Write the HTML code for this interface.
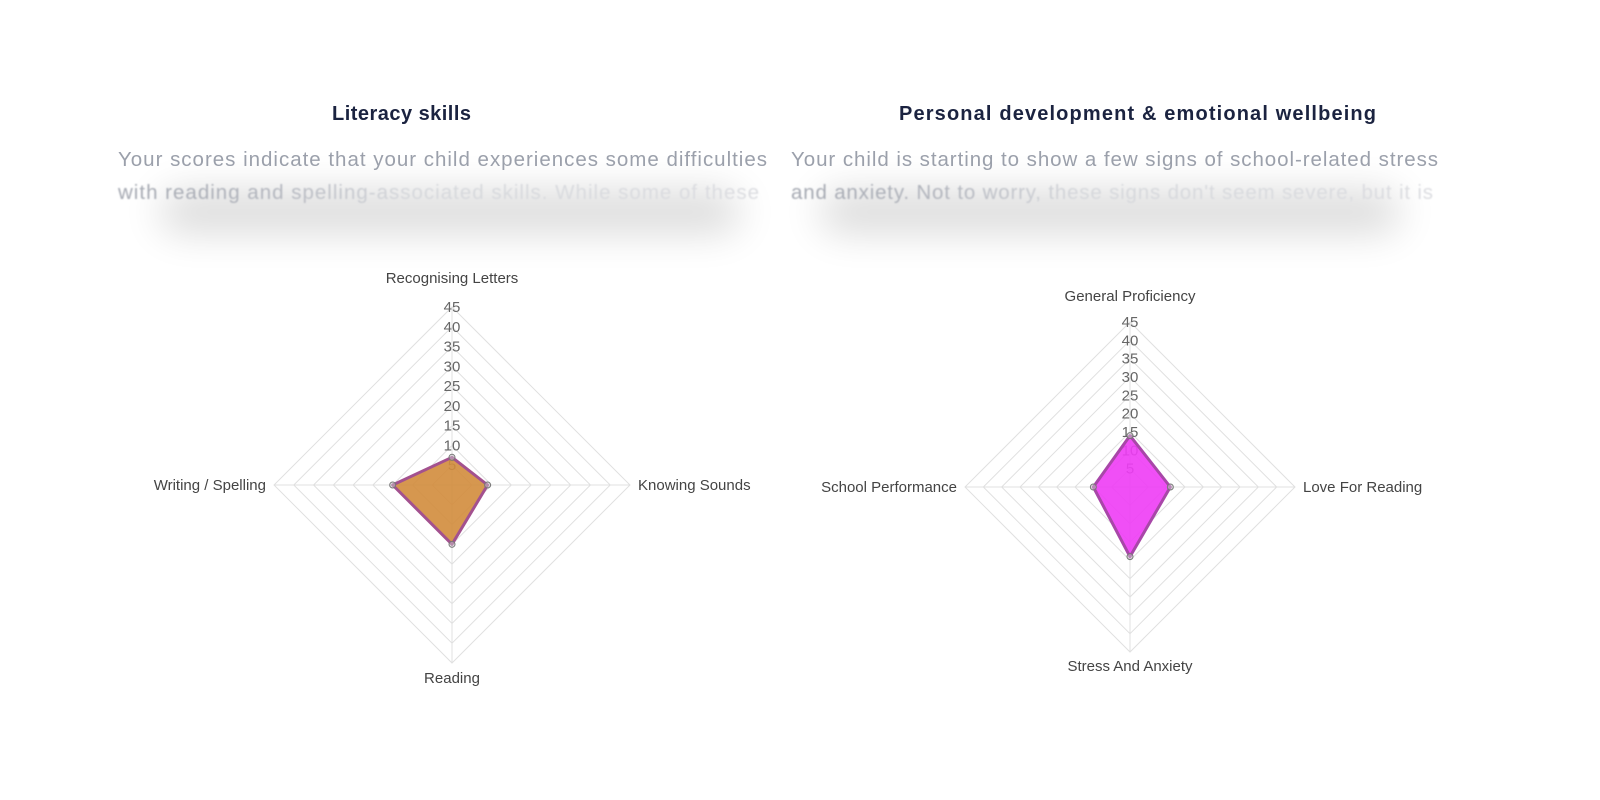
<!DOCTYPE html>
<html><head><meta charset="utf-8"><style>
html,body{margin:0;padding:0;background:#fff;width:1600px;height:800px;overflow:hidden;font-family:"Liberation Sans",sans-serif}
svg{position:absolute;left:0;top:0}
</style></head><body>
<svg id="s" width="1600" height="800">
<defs>
<filter id="blur" x="-30%" y="-200%" width="160%" height="500%"><feGaussianBlur stdDeviation="20"/></filter>
<filter id="tb"><feGaussianBlur stdDeviation="0.9"/></filter>
<linearGradient id="tfade" x1="0" y1="0" x2="1" y2="0">
<stop offset="0" stop-color="#a4a8b1"/><stop offset="0.25" stop-color="#b4b7bf"/><stop offset="0.45" stop-color="#d6d8dc"/><stop offset="1" stop-color="#dcdde1"/></linearGradient>
</defs>
<g>
<text x="332" y="120" textLength="139" font-size="20" font-weight="bold" fill="#1b2340">Literacy skills</text>
<rect x="160" y="192" width="580" height="40" rx="20" fill="#000" opacity="0.15" filter="url(#blur)"/>
<text x="118" y="166" textLength="649" font-size="20.5" fill="#9ba0ab">Your scores indicate that your child experiences some difficulties</text>
<text x="118" y="199" textLength="641" font-size="20.5" fill="url(#tfade)" filter="url(#tb)">with reading and spelling-associated skills. While some of these</text>
</g>
<g>
<text x="899" y="120" textLength="477" font-size="20" font-weight="bold" fill="#1b2340">Personal development &amp; emotional wellbeing</text>
<rect x="820" y="192" width="580" height="40" rx="20" fill="#000" opacity="0.15" filter="url(#blur)"/>
<text x="791" y="166" textLength="647" font-size="20.5" fill="#9ba0ab">Your child is starting to show a few signs of school-related stress</text>
<text x="791" y="199" textLength="642" font-size="20.5" fill="url(#tfade)" filter="url(#tb)">and anxiety. Not to worry, these signs don't seem severe, but it is</text>
</g>
</svg>
<script>
const ticks=[5,10,15,20,25,30,35,40,45];
const maxVal=45;
const litLabels=["Recognising Letters","Knowing Sounds","Reading","Writing / Spelling"];
const litValues=[7,9,15,15];
const welLabels=["General Proficiency","Love For Reading","Stress And Anxiety","School Performance"];
const welValues=[14,11,19,10];
const NS="http://www.w3.org/2000/svg";
const svg=document.getElementById('s');
function mk(t,a,p){const e=document.createElementNS(NS,t);for(const k in a)e.setAttribute(k,a[k]);(p||svg).appendChild(e);return e;}
function radar(name,cx,cy,R,labels,values,fill,stroke,labelOff){
  const g=mk('g',{});
  
  
  const n=labels.length;
  const ang=i=>-Math.PI/2+i*2*Math.PI/n;
  const rs=v=>v/maxVal*R;
  const pt=(i,v)=>[cx+rs(v)*Math.cos(ang(i)),cy+rs(v)*Math.sin(ang(i))];
  ticks.forEach(t=>{
    const p=labels.map((_,i)=>pt(i,t).join(',')).join(' ');
    const r=mk('polygon',{points:p,fill:'none',stroke:'#e0e0e0','stroke-width':1},g);
    
    
  });
  labels.forEach((_,i)=>{const [x,y]=pt(i,maxVal);
    const l=mk('line',{x1:cx,y1:cy,x2:x,y2:y,stroke:'#e0e0e0','stroke-width':1},g);
    
    });
  ticks.forEach(t=>{
    const tx=mk('text',{x:cx,y:cy-rs(t)+5,'text-anchor':'middle','font-size':15,fill:'#666'},g);
    tx.textContent=t;
    
    
  });
  const poly=mk('polygon',{points:values.map((v,i)=>pt(i,v).join(',')).join(' '),fill:fill,stroke:stroke,'stroke-width':3,'stroke-linejoin':'round'},g);
  
  
  values.forEach((v,i)=>{const [x,y]=pt(i,v);
    const c=mk('circle',{cx:x,cy:y,r:3,fill:'rgba(200,200,200,0.5)',stroke:'#777','stroke-width':1},g);
    
    });
  labels.forEach((lb,i)=>{
    const a=ang(i);const d=R+labelOff[i];
    let x=cx+d*Math.cos(a),y=cy+d*Math.sin(a)+5;
    let anc='middle';
    if(Math.abs(Math.cos(a))>0.5)anc=Math.cos(a)>0?'start':'end';
    const t=mk('text',{x:x,y:y,'text-anchor':anc,'font-size':15,fill:'#444'},g);
    t.textContent=lb;
    
    
  });
}
radar('literacy-radar-chart',452,485,178,litLabels,litValues,'rgba(210,140,60,0.9)','#a3518f',[29,8,15,8]);
radar('wellbeing-radar-chart',1130,487,165,welLabels,welValues,'rgba(238,60,245,0.9)','#a847a8',[26,8,14,8]);
</script>
</body></html>
